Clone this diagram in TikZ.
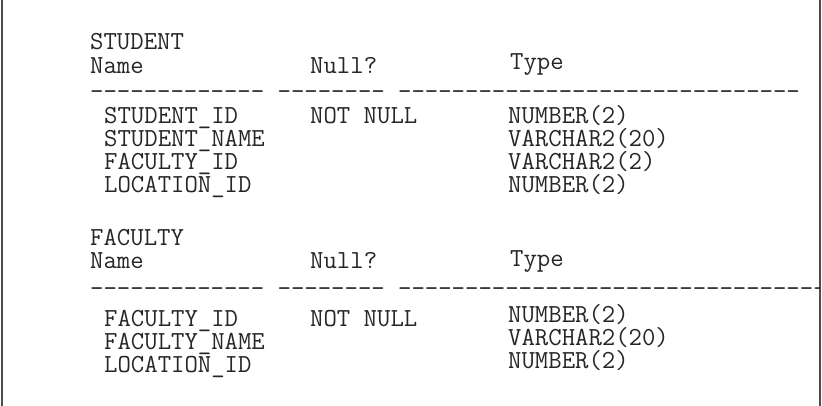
\documentclass[tikz,border=0pt]{standalone}
\begin{document}
\begin{tikzpicture}[x=1pt,y=-1pt,
  t/.style={anchor=base west,inner sep=0pt,font=\ttfamily\fontsize{26}{27}\selectfont,text=black!85}]
\useasboundingbox (0,0) rectangle (822,406);
\draw[black!70,line width=1.2pt] (2,0) -- (2,406);
\draw[black!70,line width=1.2pt] (820,0) -- (820,406);
\begin{scope}
\clip (3,0) rectangle (819,406);
% STUDENT
\node[t] (s0) at (90,50) {STUDENT};
\node[t] (s1) at (90,74) {Name};
\node[t] (s2) at (310,74) {Null?};
\node[t] (s3) at (510,70) {Type};
\node[t] (sd) at (90,100) {------------- -------- ------------------------------};
\node[t] (sa1) at (104,124) {STUDENT\_ID};
\node[t] (sa2) at (104,147) {STUDENT\_NAME};
\node[t] (sa3) at (104,170) {FACULTY\_ID};
\node[t] (sa4) at (104,193) {LOCATION\_ID};
\node[t] (sn1) at (310,124) {NOT NULL};
\node[t] (st1) at (508,124) {NUMBER(2)};
\node[t] (st2) at (508,147) {VARCHAR2(20)};
\node[t] (st3) at (508,170) {VARCHAR2(2)};
\node[t] (st4) at (508,193) {NUMBER(2)};
% FACULTY
\node[t] (f0) at (90,245) {FACULTY};
\node[t] (f1) at (90,269) {Name};
\node[t] (f2) at (310,269) {Null?};
\node[t] (f3) at (510,266) {Type};
\node[t] (fd) at (90,296) {------------- -------- --------------------------------};
\node[t] (fa1) at (104,326) {FACULTY\_ID};
\node[t] (fa2) at (104,349) {FACULTY\_NAME};
\node[t] (fa3) at (104,372) {LOCATION\_ID};
\node[t] (fn1) at (310,326) {NOT NULL};
\node[t] (ft1) at (508,322) {NUMBER(2)};
\node[t] (ft2) at (508,345) {VARCHAR2(20)};
\node[t] (ft3) at (508,368) {NUMBER(2)};
\end{scope}
\end{tikzpicture}
\end{document}
